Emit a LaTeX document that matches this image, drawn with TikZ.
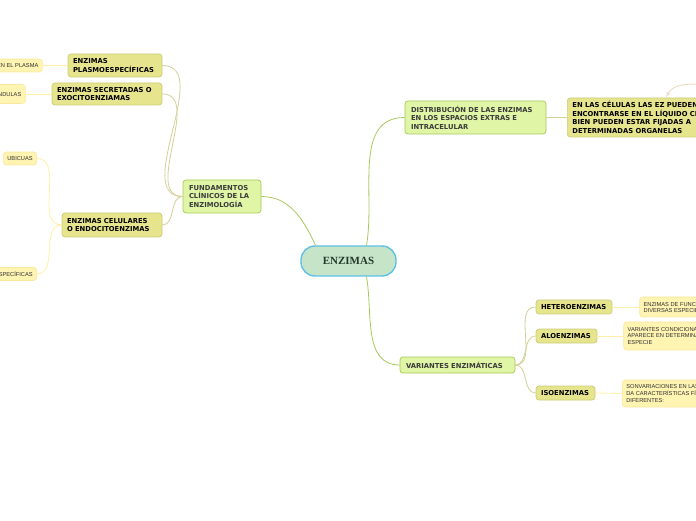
\documentclass[tikz,border=0pt]{standalone}
\usepackage{fontspec}
\usepackage{xcolor}
\usepackage{tikz}
\usetikzlibrary{shapes,arrows,positioning}
\newfontfamily\mapsans{DejaVu Sans}
\newfontfamily\leafsans{Liberation Sans}
\newfontfamily\mapserif{Liberation Serif}
\definecolor{mainFill}{HTML}{C6E5C8}
\definecolor{mainBorder}{HTML}{5EC0E8}
\definecolor{mainText}{HTML}{24382A}
\definecolor{topicFill}{HTML}{E0F5A6}
\definecolor{topicBorder}{HTML}{A5CB58}
\definecolor{topicText}{HTML}{3A3A3A}
\definecolor{subFill}{HTML}{E6E58E}
\definecolor{subBorder}{HTML}{CCCB78}
\definecolor{leafFill}{HTML}{FFF4B2}
\definecolor{leafBorder}{HTML}{FBE8A0}
\definecolor{leafText}{HTML}{2E2E2E}
\definecolor{linkMain}{HTML}{A8C85A}
\definecolor{linkSub}{HTML}{D2D096}
\definecolor{linkLeaf}{HTML}{FFF0A6}
\definecolor{arrowCol}{HTML}{EDDCC0}
\tikzstyle{mainTopic} = [rectangle, draw=mainBorder, line width=1.4pt, fill=mainFill, rounded corners=14pt,
    minimum width=95pt, minimum height=30pt, text=mainText, font={\mapserif\bfseries\fontsize{11}{13}\selectfont}]
\tikzstyle{topic} = [rectangle, draw=topicBorder, line width=0.7pt, fill=topicFill, rounded corners=3pt, align=left,
    inner xsep=6pt, inner ysep=2pt, text=topicText, font={\mapsans\bfseries\fontsize{6.8}{8.4}\selectfont}]
\tikzstyle{subtopic} = [rectangle, draw=subBorder, line width=0.7pt, fill=subFill, rounded corners=3pt, align=left,
    inner xsep=5pt, inner ysep=2pt, text=black, font={\mapsans\bfseries\fontsize{6.8}{8.6}\selectfont}]
\tikzstyle{leaf} = [rectangle, draw=leafBorder, line width=0.6pt, fill=leafFill, rounded corners=3pt, align=left,
    inner xsep=4pt, inner ysep=2pt, minimum height=13pt, text=leafText, font={\leafsans\fontsize{5.7}{6.8}\selectfont}]
\tikzstyle{link} = [draw=linkMain, line width=0.8pt]
\tikzstyle{sublink} = [draw=linkSub, line width=0.8pt]
\tikzstyle{leaflink} = [draw=linkLeaf, line width=0.8pt]
\tikzstyle{backarrow} = [draw=arrowCol, line width=1pt, -latex']

\begin{document}
\begin{tikzpicture}[x=1pt, y=1pt, node distance=25pt]
    \useasboundingbox (0,0) rectangle (696,520);
    \clip (0,0) rectangle (696,520);
    % Place nodes
    \node [mainTopic] (enzimas) at (348.5,259) {ENZIMAS};
    \node [topic, text width=66pt, minimum height=33pt] (fund) at (222,323.5) {FUNDAMENTOS\\CLÍNICOS DE LA\\ENZIMOLOGÍA};
    \node [topic, text width=129pt, minimum height=33pt] (distrib) at (475.5,402.5) {DISTRIBUCIÓN DE LAS ENZIMAS\\EN LOS ESPACIOS EXTRAS E\\INTRACELULAR};
    \node [topic, text width=103pt, minimum height=16pt] (variantes) at (457.5,155) {VARIANTES ENZIMÁTICAS};
    \node [subtopic, text width=84pt, minimum height=23pt] (plasmo) at (115,454.5) {ENZIMAS\\PLASMOESPECÍFICAS};
    \node [subtopic, text width=100pt, minimum height=22pt] (secretadas) at (107,426) {ENZIMAS SECRETADAS O\\EXOCITOENZIAMAS};
    \node [subtopic, text width=90pt, minimum height=24pt] (celulares) at (112,295) {ENZIMAS CELULARES\\O ENDOCITOENZIMAS};
    \node [subtopic, anchor=west, minimum height=39pt] (celulas) at (567,402.5) {EN LAS CÉLULAS LAS EZ PUEDEN\\ENCONTRARSE EN EL LÍQUIDO CITOPLASMÁTICO O\\BIEN PUEDEN ESTAR FIJADAS A\\DETERMINADAS ORGANELAS};
    \node [subtopic, text width=66pt, minimum height=14pt] (hetero) at (574,213) {HETEROENZIMAS};
    \node [subtopic, text width=51pt, minimum height=14pt] (alo) at (566.5,184) {ALOENZIMAS};
    \node [subtopic, text width=49pt, minimum height=14pt] (iso) at (565.5,127) {ISOENZIMAS};
    % leaves
    \node [leaf, left=25pt of plasmo] (plasma) {EN EL PLASMA};
    \node [leaf, left=26pt of secretadas, minimum height=19pt] (glandulas) {GLÁNDULAS};
    \node [leaf, anchor=east] (ubicuas) at (37,361.5) {UBICUAS};
    \node [leaf, anchor=east] (especificas) at (37,246) {ESPECÍFICAS};
    \node [leaf, right=27pt of hetero, minimum height=20pt] (heteroleaf) {ENZIMAS DE FUNCIÓN\\DIVERSAS ESPECIES};
    \node [leaf, right=26pt of alo, minimum height=28pt] (aloleaf) {VARIANTES CONDICIONADAS\\APARECE EN DETERMINADA\\ESPECIE};
    \node [leaf, anchor=west, minimum height=27pt] (isoleaf) at (622,126.5) {SONVARIACIONES EN LAS\\DA CARACTERÍSTICAS FÍSICAS\\DIFERENTES:};
    \coordinate (arrowstart) at (704,436);
    % Draw edges
    \path [link] ([xshift=-33pt]enzimas.north) to[out=115, in=0] (fund.east);
    \path [link] ([xshift=18pt]enzimas.north) to[out=80, in=180] (distrib.west);
    \path [link] ([xshift=18pt]enzimas.south) to[out=-80, in=180] (variantes.west);
    \path [sublink] (fund.west) to[out=180, in=0] (plasmo.east);
    \path [sublink] (fund.west) to[out=180, in=0] (secretadas.east);
    \path [sublink] (fund.west) to[out=180, in=0] (celulares.east);
    \path [sublink] (distrib.east) -- (celulas.west);
    \path [sublink] (variantes.east) to[out=0, in=180] (hetero.west);
    \path [sublink] (variantes.east) to[out=0, in=180] (alo.west);
    \path [sublink] (variantes.east) to[out=0, in=180] (iso.west);
    \path [leaflink] (plasmo.west) -- (plasma.east);
    \path [leaflink] (secretadas.west) -- (glandulas.east);
    \path [leaflink] (celulares.west) to[out=180, in=0] (ubicuas.east);
    \path [leaflink] (celulares.west) to[out=180, in=0] (especificas.east);
    \path [leaflink] (hetero.east) -- (heteroleaf.west);
    \path [leaflink] (alo.east) -- (aloleaf.west);
    \path [leaflink] (iso.east) -- (isoleaf.west);
    \path [backarrow] (arrowstart) to[out=180, in=65] ([xshift=99pt]celulas.north west);
\end{tikzpicture}
\end{document}
